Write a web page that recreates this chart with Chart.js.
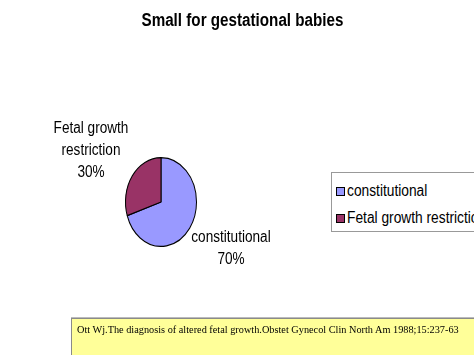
<!DOCTYPE html>
<html>
<head>
<meta charset="utf-8">
<script src="https://cdn.jsdelivr.net/npm/chart.js@4/dist/chart.umd.min.js"></script>
<style>
  html, body { margin: 0; padding: 0; background: #fff; width: 474px; height: 355px; overflow: hidden; }
  #wrap { position: relative; width: 474px; height: 355px; }
  canvas { position: absolute; left: 0; top: 0; }
  .narrow { font-family: "Liberation Sans Narrow", "Arial Narrow", "Liberation Sans", Arial, sans-serif; }
  #title { position: absolute; left: 0; width: 485px; top: 10px; text-align: center; font-size: 18px; font-weight: bold; color: #000; transform: scaleX(0.845); transform-origin: 242.5px 0; }
  .lbl { position: absolute; text-align: center; font-size: 16px; line-height: 22px; color: #000; white-space: nowrap; transform: translate(-50%, -50%) scaleX(0.85); }
  #legend { position: absolute; left: 331px; top: 172px; width: 160px; height: 58px; border: 1px solid #999; background: #fff; }
  .item { position: absolute; left: 4px; height: 20px; width: 150px; }
  .sw { position: absolute; left: 0; top: 6px; width: 7px; height: 7px; border: 1px solid #000; }
  .itxt { position: absolute; left: 11px; top: 0; font-size: 16px; line-height: 20px; color: #000; white-space: nowrap; transform: scaleX(0.86); transform-origin: 0 0; }
  #foot { position: absolute; left: 71px; top: 318px; width: 420px; height: 50px; background: #FFFF99; border: 1px solid #8a8a8a; box-shadow: 0 -1px 0 #bbb; }
  #foottext { position: absolute; left: 5px; top: 4px; font-family: "Liberation Serif", "Times New Roman", serif; font-size: 11px; color: #000; white-space: nowrap; transform: scaleX(0.935); transform-origin: 0 0; }
</style>
</head>
<body>
<div id="wrap">
  <canvas id="c" width="474" height="355"></canvas>
  <div id="title" class="narrow">Small for gestational babies</div>
  <div id="labels"></div>
  <div id="legend" class="narrow"></div>
  <div id="foot"><div id="foottext">Ott Wj.The diagnosis of altered fetal growth.Obstet Gynecol Clin North Am 1988;15:237-63</div></div>
</div>
<script>
const categories = ["constitutional", "Fetal growth restriction"];
const labelLines = [["constitutional"], ["Fetal growth", "restriction"]];
const values = [70, 30];
const colors = ["#9999FF", "#993366"];

const YSCALE = 1.25;

// legend
const legend = document.getElementById('legend');
categories.forEach((c, i) => {
  const d = document.createElement('div');
  d.className = 'item';
  d.style.top = (8 + i * 27) + 'px';
  d.innerHTML = '<span class="sw" style="background:' + colors[i] + '"></span><span class="itxt">' + c + '</span>';
  legend.appendChild(d);
});

const squash = {
  id: 'squash',
  beforeDatasetsDraw(chart) {
    const a = chart.getDatasetMeta(0).data[0];
    const ctx = chart.ctx;
    ctx.save();
    ctx.translate(a.x, a.y);
    ctx.scale(1, YSCALE);
    ctx.translate(-a.x, -a.y);
  },
  afterDatasetsDraw(chart) { chart.ctx.restore(); }
};

const labelPlugin = {
  id: 'htmlLabels',
  afterDraw(chart) {
    const host = document.getElementById('labels');
    host.innerHTML = '';
    const meta = chart.getDatasetMeta(0);
    const total = values.reduce((s, v) => s + v, 0);
    meta.data.forEach((arc, i) => {
      const mid = (arc.startAngle + arc.endAngle) / 2;
      const r = arc.outerRadius;
      const x = arc.x + Math.cos(mid) * r * 2.45;
      const y = arc.y + Math.sin(mid) * r * YSCALE * 1.87 - 3;
      const d = document.createElement('div');
      d.className = 'lbl narrow';
      d.style.left = x + 'px';
      d.style.top = y + 'px';
      d.innerHTML = labelLines[i].join('<br>') + '<br>' + Math.round(values[i] / total * 100) + '%';
      host.appendChild(d);
    });
  }
};

new Chart(document.getElementById('c'), {
  type: 'pie',
  data: {
    labels: categories,
    datasets: [{ data: values, backgroundColor: colors, borderColor: '#000', borderWidth: 1 }]
  },
  options: {
    responsive: false,
    animation: false,
    devicePixelRatio: 1,
    layout: { padding: { left: 125, right: 277, top: 166, bottom: 117 } },
    plugins: { legend: { display: false }, tooltip: { enabled: false }, title: { display: false } }
  },
  plugins: [squash, labelPlugin]
});
</script>
</body>
</html>
